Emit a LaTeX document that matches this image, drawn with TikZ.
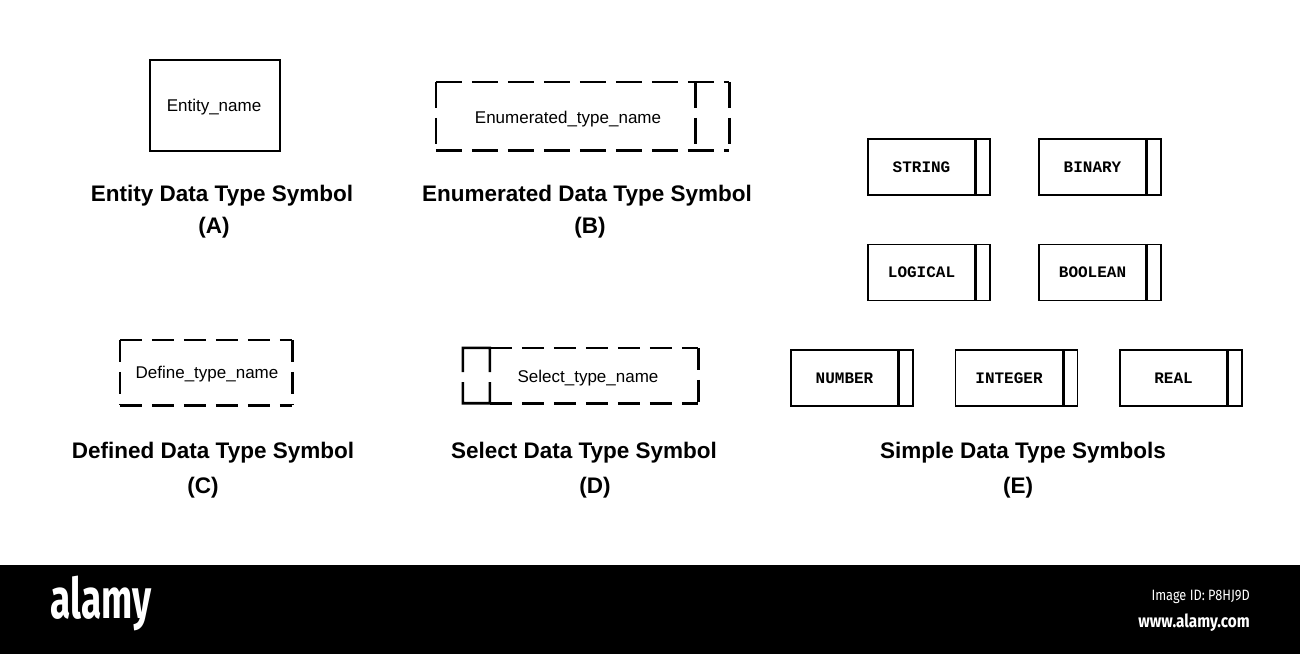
\documentclass[tikz,border=0pt]{standalone}
\usepackage{fontspec}
\setmainfont{Liberation Sans}
\newfontfamily\monofnt{Liberation Mono}
\newfontfamily\wmfont{Fira Sans}
\usetikzlibrary{calc}
\newcommand\SimpleBox[4]{%
  \node[simplebox] (#1) at (#2,#3) {};
  \draw[sepline] ([xshift=-15pt]#1.north east) -- ([xshift=-15pt]#1.south east);
  \node[monotext] (#1t) at ($(#1.west)!0.5!([xshift=-15pt]#1.east)$) {#4};
}
\begin{document}
\begin{tikzpicture}[x=1pt,y=-1pt,
  captionstyle/.style={font=\fontsize{22.5}{26}\selectfont\bfseries, inner sep=0},
  boxtext/.style={font=\fontsize{17}{19}\selectfont, inner sep=0},
  monotext/.style={font=\monofnt\fontsize{16}{18}\selectfont\bfseries, inner sep=0},
  simplebox/.style={draw, line width=1.3pt, minimum width=122pt, minimum height=56pt, inner sep=0},
  sepline/.style={line width=3pt},
  dsh/.style={line width=2.6pt, dash pattern=on 26pt off 10pt},
  solidline/.style={line width=2.6pt},
]
\useasboundingbox (0,0) rectangle (1300,654);
\fill[white] (0,0) rectangle (1300,565);
\fill[black] (0,565) rectangle (1300,654);

% (A) Entity
\node[draw, line width=1.3pt, minimum width=130pt, minimum height=91pt, inner sep=0] (ent) at (215,105.5) {};
\node[boxtext] (entt) at (214,107) {Entity\_name};
\node[captionstyle] (capA) at (222,196) {Entity Data Type Symbol};
\node[captionstyle] (labA) at (214,228) {(A)};

% (B) Enumerated
\node[minimum width=293pt, minimum height=68pt, inner sep=0] (enum) at (582.5,116) {};
\draw[dsh] (enum.north west) -- (enum.north east);
\draw[dsh] (enum.north west) -- (enum.south west);
\draw[dsh] (enum.south west) -- (enum.south east);
\draw[dsh] (enum.north east) -- (enum.south east);
\coordinate (enumT) at ([xshift=-34pt]enum.north east);
\coordinate (enumB) at ([xshift=-34pt]enum.south east);
\draw[dsh] (enumT) -- (enumB);
\node[boxtext] (enumt) at (568,119) {Enumerated\_type\_name};
\node[captionstyle] (capB) at (587,196) {Enumerated Data Type Symbol};
\node[captionstyle] (labB) at (590,228) {(B)};

% (C) Defined
\node[minimum width=172pt, minimum height=65pt, inner sep=0] (def) at (206,372.5) {};
\draw[dsh, dash pattern=on 22pt off 10pt] (def.north west) -- (def.north east);
\draw[dsh, dash pattern=on 22pt off 10pt] (def.south west) -- (def.south east);
\draw[dsh, dash pattern=on 22pt off 10pt] (def.north west) -- (def.south west);
\draw[dsh, dash pattern=on 22pt off 10pt] (def.north east) -- (def.south east);
\node[boxtext] (deft) at (207,374) {Define\_type\_name};
\node[captionstyle] (capC) at (213,453) {Defined Data Type Symbol};
\node[captionstyle] (labC) at (203,488) {(C)};

% (D) Select
\node[minimum width=235pt, minimum height=55pt, inner sep=0] (sel) at (580.5,375.5) {};
\coordinate (selT) at ([xshift=27pt]sel.north west);
\coordinate (selB) at ([xshift=27pt]sel.south west);
\coordinate (selLm1) at ($(sel.north west)!0.44!(sel.south west)$);
\coordinate (selLm2) at ($(sel.north west)!0.62!(sel.south west)$);
\coordinate (selIm1) at ($(selT)!0.44!(selB)$);
\coordinate (selIm2) at ($(selT)!0.62!(selB)$);
\draw[solidline] (selLm1) -- (sel.north west) -- (selT) -- (selIm1);
\draw[solidline] (selLm2) -- (sel.south west) -- (selB) -- (selIm2);
\draw[dsh, dash pattern=on 22pt off 10pt] (selT) -- (sel.north east);
\draw[dsh, dash pattern=on 22pt off 10pt] (selB) -- (sel.south east);
\draw[dsh, dash pattern=on 22pt off 10pt] (sel.north east) -- (sel.south east);
\node[boxtext] (selt) at (588,378) {Select\_type\_name};
\node[captionstyle] (capD) at (584,453) {Select Data Type Symbol};
\node[captionstyle] (labD) at (595,488) {(D)};

% (E) Simple
\SimpleBox{string}{929}{167}{STRING}
\SimpleBox{binary}{1100}{167}{BINARY}
\SimpleBox{logical}{929}{272.5}{LOGICAL}
\SimpleBox{boolean}{1100}{272.5}{BOOLEAN}
\SimpleBox{number}{852}{378}{NUMBER}
\SimpleBox{integer}{1016.5}{378}{INTEGER}
\SimpleBox{real}{1181}{378}{REAL}
\node[captionstyle] (capE) at (1023,453) {Simple Data Type Symbols};
\node[captionstyle] (labE) at (1018,488) {(E)};

% watermark bar
\node[text=white, font=\wmfont\fontsize{56}{56}\selectfont\bfseries, xscale=0.66, inner sep=0] (alamy) at (101,603) {alamy};
\node[text=white, font=\wmfont\fontsize{15}{16}\selectfont, xscale=0.85, anchor=east, inner sep=0] (imgid) at (1250,597) {Image ID: P8HJ9D};
\node[text=white, font=\wmfont\fontsize{18}{18}\selectfont\bfseries, xscale=0.85, anchor=east, inner sep=0] (www) at (1250,623) {www.alamy.com};
\end{tikzpicture}
\end{document}
